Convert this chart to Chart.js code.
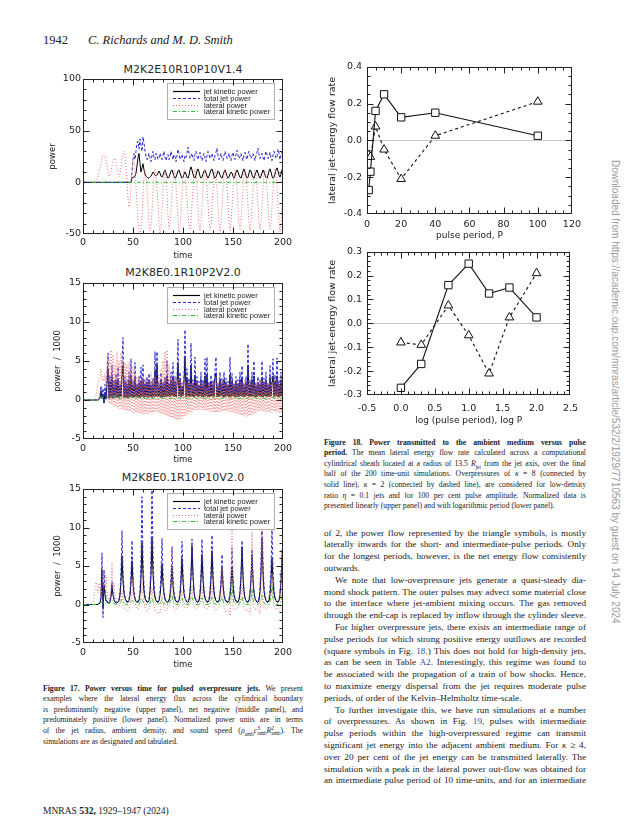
<!DOCTYPE html>
<html><head><meta charset="utf-8">
<script src="https://cdn.jsdelivr.net/npm/chart.js@4.4.1/dist/chart.umd.min.js"></script>
<style>
html,body{margin:0;padding:0;background:#fff;}
#page{position:relative;width:638px;height:838px;overflow:hidden;background:#fff;font-family:'Liberation Serif','Times New Roman',serif;color:#1a1a1a;}
canvas{position:absolute;}
.ptitle{position:absolute;left:63px;width:240px;text-align:center;font-family:'DejaVu Sans',sans-serif;font-size:11px;line-height:13px;color:#2a2a2a;}
.cap{position:absolute;font-size:7.7px;line-height:10.6px;}
.body{position:absolute;font-size:9.2px;line-height:11.8px;}
.cap div,.body div{text-align:justify;text-align-last:justify;}
.cap div.last,.body div.last{text-align-last:left;}
.ind{text-indent:11px;}
a{color:#2a4fa0;text-decoration:none;}
sub,sup{font-size:0.7em;line-height:0;}
.ss{display:inline-block;vertical-align:-0.35em;font-size:0.7em;line-height:0.85em;text-align:left;}
.ss span{display:block;text-align-last:left;}
#hdr{position:absolute;left:43px;top:32px;font-size:12.5px;line-height:16px;}
#hdr i{margin-left:20px;}
#ftr{position:absolute;left:43px;top:805px;font-size:9.5px;line-height:12px;}
#dl{position:absolute;left:621px;top:160px;transform-origin:0 0;transform:rotate(90deg);font-family:'Liberation Sans',sans-serif;font-size:10px;line-height:12px;color:#9a9a9a;white-space:nowrap;}
</style></head>
<body><div id="page">
<div id="hdr">1942<i>C. Richards and M. D. Smith</i></div>

<div class="ptitle" style="top:63px">M2K2E10R10P10V1.4</div>
<canvas id="p1"></canvas>
<div class="ptitle" style="top:266px">M2K8E0.1R10P2V2.0</div>
<canvas id="p2"></canvas>
<div class="ptitle" style="top:471px">M2K8E0.1R10P10V2.0</div>
<canvas id="p3"></canvas>
<canvas id="rt"></canvas>
<canvas id="rb"></canvas>

<div class="cap" style="left:43px;top:683.7px;width:260px;">
<div><b>Figure 17. Power versus time for pulsed overpressure jets.</b> We present</div>
<div>examples where the lateral energy flux across the cylindrical boundary</div>
<div>is predominantly negative (upper panel), net negative (middle panel), and</div>
<div>predominately positive (lower panel). Normalized power units are in terms</div>
<div>of the jet radius, ambient density, and sound speed (<i>ρ</i><sub>amb</sub><i>c</i><span class="ss"><span>3</span><span>amb</span></span><i>R</i><span class="ss"><span>2</span><span>amb</span></span>). The</div>
<div class="last">simulations are as designated and tabulated.</div>
</div>

<div class="cap" style="left:324px;top:437.6px;width:262px;">
<div><b>Figure 18. Power transmitted to the ambient medium versus pulse</b></div>
<div><b>period.</b> The mean lateral energy flow rate calculated across a computational</div>
<div>cylindrical sheath located at a radius of 13.5 <i>R</i><sub>jet</sub> from the jet axis, over the final</div>
<div>half of the 200 time-unit simulations. Overpressures of <i>κ</i> = 8 (connected by</div>
<div>solid line), <i>κ</i> = 2 (connected by dashed line), are considered for low-density</div>
<div>ratio <i>η</i> = 0.1 jets and for 100 per cent pulse amplitude. Normalized data is</div>
<div class="last">presented linearly (upper panel) and with logarithmic period (lower panel).</div>
</div>

<div class="body" style="left:324px;top:527.6px;width:262px;">
<div>of 2, the power flow represented by the triangle symbols, is mostly</div>
<div>laterally inwards for the short- and intermediate-pulse periods. Only</div>
<div>for the longest periods, however, is the net energy flow consistently</div>
<div class="last">outwards.</div>
<div class="ind">We note that low-overpressure jets generate a quasi-steady dia-</div>
<div>mond shock pattern. The outer pulses may advect some material close</div>
<div>to the interface where jet-ambient mixing occurs. The gas removed</div>
<div>through the end-cap is replaced by inflow through the cylinder sleeve.</div>
<div class="ind">For higher overpressure jets, there exists an intermediate range of</div>
<div>pulse periods for which strong positive energy outflows are recorded</div>
<div>(square symbols in Fig. <a>18</a>.) This does not hold for high-density jets,</div>
<div>as can be seen in Table <a>A2</a>. Interestingly, this regime was found to</div>
<div>be associated with the propagation of a train of bow shocks. Hence,</div>
<div>to maximize energy dispersal from the jet requires moderate pulse</div>
<div class="last">periods, of order of the Kelvin–Helmholtz time-scale.</div>
<div class="ind">To further investigate this, we have run simulations at a number</div>
<div>of overpressures. As shown in Fig. <a>19</a>, pulses with intermediate</div>
<div>pulse periods within the high-overpressured regime can transmit</div>
<div>significant jet energy into the adjacent ambient medium. For <i>κ</i> ≥ 4,</div>
<div>over 20 per cent of the jet energy can be transmitted laterally. The</div>
<div>simulation with a peak in the lateral power out-flow was obtained for</div>
<div>an intermediate pulse period of 10 time-units, and for an intermediate</div>
</div>

<div id="ftr">MNRAS <b>532,</b> 1929–1947 (2024)</div>
<div id="dl">Downloaded from https://academic.oup.com/mnras/article/532/2/1929/7710563 by guest on 14 July 2024</div>
</div>

<script>
// ---------------- data ----------------
// Panel 1 (M2K2E10R10P10V1.4), time 0..200, step 1
const p1Step = 1;
const p1JetKinetic = [
0,0,0,0,0,0,0,0,0,0,
0,0,0,0,0,0,0,0,0,0,
0,0,0,0,0,0,0,0,0,0,
0,0,0,0,0,0,0,0,0,0,
0,0,0,0,0,0,0,0,0,4,
5,5,6,9,16,24,28,18,10,14,
18,12,8,6,5,4,4,5,6,8,
10,9,7,6,7,9,11,9,6,5,
7,10,12,9,6,4,5,8,11,12,
9,6,4,5,8,11,12,9,6,4,
5,8,10,8,5,4,7,12,15,12,
8,5,4,7,11,13,10,6,4,5,
8,11,12,9,6,4,6,9,12,13,
10,6,4,5,8,11,10,7,5,4,
7,10,12,9,6,4,5,8,10,9,
6,4,6,10,12,10,7,5,4,7,
11,13,10,6,4,5,9,12,11,7,
5,4,7,10,12,9,6,4,6,9,
12,10,7,5,4,7,11,13,10,6,
4,5,8,12,14,11,7,5,8,12,
14];
const p1TotalJet = [
0,0,0,0,0,0,0,0,0,0,
0,0,0,0,0,0,0,0,0,0,
0,0,0,0,0,0,0,0,0,0,
0,0,0,0,0,0,0,0,0,0,
0,0,0,0,0,0,0,0,0,10,
22,28,22,30,38,40,32,42,36,30,
44,38,30,25,22,24,28,24,20,26,
30,24,22,28,26,22,24,28,25,22,
26,30,24,21,25,27,22,24,30,26,
22,27,25,20,26,32,28,22,24,27,
23,20,26,24,28,34,29,23,25,28,
24,21,27,30,25,22,26,29,24,21,
25,28,24,20,26,30,27,23,25,28,
24,21,26,29,33,26,22,25,28,24,
21,26,30,27,23,25,28,24,21,26,
29,25,22,27,31,26,23,25,28,24,
21,26,29,25,22,27,30,26,23,25,
28,24,21,26,29,33,27,23,25,28,
24,21,26,30,27,23,25,29,24,21,
26,30,27,23,25,32,28,22,26,30,
25];
const p1Lateral = [
0,0,0,0,0,0,0,0,0,0,
0,0,0,1,3,6,10,14,19,23,
26,27,26,22,16,10,6,7,11,16,
20,23,23,20,14,8,5,8,15,22,
28,30,26,15,0,-15,-24,-20,-5,12,
24,20,10,-5,-22,-38,-48,-52,-45,-30,
-12,4,12,8,-6,-24,-40,-47,-42,-28,
-10,5,13,9,-5,-22,-40,-52,-44,-26,
-8,6,12,6,-12,-32,-45,-40,-26,-10,
4,12,9,-4,-20,-38,-50,-44,-28,-10,
5,13,10,-2,-16,-30,-42,-46,-38,-22,
-6,7,13,8,-6,-24,-40,-47,-40,-24,
-6,8,13,9,-4,-20,-36,-46,-42,-26,
-8,6,12,8,-6,-24,-40,-48,-40,-24,
-6,8,13,9,-4,-22,-38,-46,-40,-24,
-6,8,12,8,-6,-24,-40,-45,-38,-22,
-4,9,13,8,-6,-24,-40,-47,-40,-24,
-6,8,12,8,-6,-24,-40,-46,-38,-22,
-4,8,12,8,-6,-22,-38,-45,-40,-24,
-6,8,13,9,-4,-22,-38,-48,-40,-24,
-8];
const p1LatStep = 10;
const p1LateralKinetic = [0,0,0,0,0,0,0,0,0,0,0,0,0,0,0,0,0,0,0,0,0];

// Panel 2 (M2K8E0.1R10P2V2.0), time 0..200, step 1, values / 1000
const p2Step = 1;
const p2JetKinetic = [
0,0,0,0,0,0,0,0,0,0,
0,0,0,0,0,0,0.1,0.3,1.2,0.2,
0.8,-0.4,1.0,0.1,2.0,4.0,0.2,2.5,0.3,3.0,
0.2,2.0,0.3,2.5,0.3,2.8,0.2,1.8,0.4,3.0,
4.5,0.3,2.2,0.3,2.0,0.2,2.6,0.4,3.2,0.3,
2.0,0.3,2.8,0.4,1.8,0.3,2.2,0.3,2.5,0.4,
2.6,0.3,2.0,0.4,2.3,0.3,2.5,0.4,1.9,0.3,
2.1,0.4,3.8,0.5,4.5,0.4,1.8,0.4,2.6,0.3,
1.9,0.4,2.4,0.4,3.2,0.5,2.0,0.4,2.6,0.5,
2.9,0.4,2.3,0.4,2.0,4.8,0.5,2.6,0.4,1.8,
0.5,2.3,5.5,0.4,2.9,0.5,2.2,0.4,4.5,0.5,
2.0,0.4,3.2,0.5,2.3,0.4,1.9,0.5,2.6,0.4,
2.0,0.4,3.1,0.5,3.2,0.4,1.9,0.4,2.4,0.5,
2.0,0.4,2.9,3.5,0.4,1.8,0.4,2.6,0.5,2.1,
0.4,2.6,0.4,2.2,0.5,1.9,0.4,3.2,0.4,2.5,
0.5,1.8,0.4,2.3,0.4,2.0,0.4,2.6,0.5,2.9,
0.4,1.8,0.4,2.3,0.5,4.5,0.4,2.0,0.4,2.6,
0.5,3.1,0.4,1.8,0.4,2.3,0.5,2.0,0.4,2.9,
0.4,2.2,0.5,2.6,0.4,1.8,0.4,2.9,0.5,2.0,
3.1,0.4,2.4,0.5,3.1,0.4,2.0,0.4,2.6,0.5,
2.2];
const p2TotalJet = [
0,0,0,0,0,0,0,0,0,0,
0,0,0,0,0,0,0.2,0.5,1.8,0.4,
1.5,-0.3,2.0,0.2,3.0,6.0,0.5,3.2,0.6,4.5,
0.4,2.6,0.5,3.4,0.6,4.2,0.5,2.4,0.8,4.6,
8.0,0.7,3.0,0.6,2.6,0.5,3.6,0.8,5.3,0.7,
2.6,0.6,4.8,0.8,2.2,0.6,3.0,0.7,4.2,0.8,
4.5,0.6,2.6,0.8,3.0,0.6,3.4,0.9,2.4,0.7,
2.8,0.8,6.2,1.0,6.2,0.8,2.3,0.9,3.5,0.7,
2.4,0.8,3.0,0.9,5.0,1.0,2.6,0.8,3.6,1.0,
4.8,0.8,3.0,0.9,2.5,7.8,1.0,3.6,0.8,2.2,
1.0,3.0,9.0,0.9,4.0,1.0,2.8,0.8,7.3,1.0,
2.6,0.9,5.5,1.0,3.0,0.8,2.4,1.0,3.6,0.8,
2.6,0.9,5.3,1.0,5.5,0.8,2.4,0.9,3.2,1.0,
2.6,0.8,4.0,5.5,0.9,2.2,0.8,3.6,1.0,2.8,
0.8,3.6,0.9,2.8,1.0,2.4,0.8,5.5,0.9,3.4,
1.0,2.2,0.8,3.0,0.9,2.6,0.8,3.6,1.0,4.4,
0.8,2.2,0.9,3.0,1.0,7.2,0.8,2.6,0.9,3.6,
1.0,5.0,0.8,2.2,0.9,3.0,1.0,2.6,0.8,5.0,
0.9,2.8,1.0,3.6,0.8,2.2,0.9,4.4,1.0,2.6,
5.3,0.8,3.2,1.0,5.4,0.9,2.6,0.8,3.6,1.0,
2.8];
const p2Lateral = [
0,0,0,0,0,0,0,0,0,0,
0,0,0.2,0.6,1.2,2.0,2.8,3.2,4.0,2.6,
3.0,2.4,3.4,1.5,4.5,-0.2,5.5,-0.5,6.4,-0.6,
5.8,-0.8,4.5,-0.9,6.2,-1.0,5.0,-1.1,6.0,-1.2,
5.2,-1.3,4.8,-1.4,4.5,-1.4,4.9,-1.5,3.8,-1.5,
4.2,-1.6,3.5,-1.6,3.0,-1.7,3.2,-1.7,2.6,-1.8,
3.0,-1.8,2.5,-1.8,2.8,-1.8,2.4,-1.7,3.5,-1.6,
2.8,-1.6,3.0,-1.5,2.6,-1.6,3.2,-1.7,4.0,-1.8,
5.0,-1.9,6.2,-2.0,6.4,-2.1,4.5,-2.2,3.0,-2.3,
2.6,-2.4,2.8,-2.5,2.4,-2.6,3.0,-2.5,2.5,-2.4,
2.2,-2.2,2.6,-2.0,2.0,-1.8,2.4,-1.6,2.2,-1.5,
2.5,-1.4,2.0,-1.3,2.3,-1.3,1.9,-1.2,2.4,-1.3,
2.0,-1.3,2.2,-1.4,1.8,-1.4,2.3,-1.5,2.0,-1.5,
2.4,-1.6,2.0,-1.6,2.5,-1.6,1.8,-1.5,2.2,-1.5,
2.6,-1.4,2.1,-1.4,2.3,-1.5,1.9,-1.5,2.4,-1.6,
2.0,-1.6,2.2,-1.7,2.5,-1.8,2.0,-1.9,2.3,-2.0,
2.1,-2.0,2.6,-2.1,2.2,-2.1,2.4,-2.0,2.0,-1.9,
2.3,-1.8,2.0,-1.6,2.4,-1.5,2.1,-1.4,2.6,-1.4,
2.2,-1.5,2.4,-1.5,2.0,-1.6,2.3,-1.6,2.1,-1.6,
2.4,-1.5,2.0,-1.5,2.5,-1.6,2.1,-1.7,2.3,-1.6,
2.0];
const p2LatStep = 2;
const p2LateralKinetic = [
0,0,0,0,0,0,0,0,0,
0.2,0.4,0.1,0.5,0.2,0.3,0.1,0.6,0.7,0.3,
0.2,0.3,0.2,0.3,0.2,0.4,0.3,0.2,0.3,0.2,
0.2,0.3,0.2,0.2,0.3,0.2,0.2,0.3,0.2,0.2,
0.3,0.2,0.2,0.3,0.2,0.2,0.3,0.2,0.2,0.3,
0.2,0.3,0.2,0.2,0.3,0.2,0.2,0.3,0.2,0.2,
0.3,0.2,0.2,0.3,0.2,0.2,0.3,0.2,0.2,0.3,
0.2,0.2,0.3,0.2,0.2,0.3,0.2,0.2,0.3,0.2,
0.2,0.3,0.2,0.2,0.3,0.2,0.2,0.3,0.2,0.2,
0.3,0.2,0.2,0.3,0.2,0.2,0.3,0.2,0.2,0.3,
0.2,0.2];

// Panel 3 (M2K8E0.1R10P10V2.0), time 0..200, step 1, values / 1000
const p3Step = 1;
const p3JetKinetic = [
0,0,0,0,0,0,0,0,0,0,
0,0,0,0,0,0,0.1,0.2,0.8,4.5,
-0.5,2.5,1.2,0.5,0.3,0.2,0.2,0.4,1.0,2.5,
1.2,0.6,0.3,0.2,0.2,0.3,0.5,1.2,3.0,6.3,
3.0,1.4,0.8,0.5,0.3,0.3,0.5,1.2,2.8,5.7,
2.8,1.3,0.7,0.4,0.3,0.3,0.5,1.4,3.5,8.0,
3.8,1.6,0.8,0.5,0.3,0.3,0.5,1.5,3.8,8.7,
4.0,1.7,0.9,0.5,0.3,0.3,0.5,1.2,2.6,5.3,
2.6,1.3,0.7,0.4,0.3,0.3,0.5,1.1,2.5,5.0,
2.5,1.2,0.7,0.4,0.3,0.3,0.5,1.3,3.0,6.0,
3.0,1.4,0.8,0.5,0.3,0.3,0.6,1.5,3.6,7.6,
3.6,1.6,0.8,0.5,0.3,0.3,0.5,1.3,3.2,6.5,
3.2,1.5,0.8,0.5,0.3,0.3,0.5,1.4,3.4,7.0,
3.3,1.5,0.8,0.5,0.3,0.3,0.5,1.2,2.6,5.0,
2.5,1.2,0.7,0.4,0.3,0.3,0.5,1.2,2.6,5.0,
2.5,1.2,0.7,0.4,0.3,0.3,0.6,1.5,3.6,7.5,
3.6,1.6,0.8,0.5,0.3,0.3,0.5,1.4,3.2,6.5,
3.2,1.5,0.8,0.5,0.3,0.3,0.6,1.6,4.0,8.5,
4.0,1.8,0.9,0.5,0.3,0.3,0.5,1.3,3.0,6.0,
3.0,1.4,0.8,0.5,0.3,0.3,0.5,1.3,3.0,6.0,
3.0];
const p3TotalJet = [
0,0,0,0,0,0,0,0,0,0,
0,0,0,0,0,0,0.1,0.3,1.0,6.7,
-1.7,4.5,2.0,0.8,0.4,0.3,0.3,0.5,1.2,3.0,
1.5,0.8,0.4,0.3,0.3,0.4,0.7,1.6,4.2,9.6,
4.5,2.0,1.0,0.6,0.4,0.4,0.7,1.5,3.8,8.3,
4.0,1.8,0.9,0.5,0.4,0.4,0.7,1.8,5.5,14.0,
6.0,2.4,1.1,0.6,0.4,0.4,0.7,2.0,6.0,15.5,
6.5,2.5,1.2,0.6,0.4,0.4,0.7,1.6,4.0,8.6,
4.0,1.8,0.9,0.5,0.4,0.4,0.6,1.4,3.5,7.5,
3.5,1.6,0.9,0.5,0.4,0.4,0.7,1.6,4.0,8.2,
4.0,1.8,0.9,0.5,0.4,0.4,0.7,1.7,4.2,8.5,
4.2,1.9,1.0,0.6,0.4,0.4,0.7,1.7,4.2,8.5,
4.2,1.9,1.0,0.6,0.4,0.4,0.7,1.8,4.4,9.0,
4.4,2.0,1.0,0.6,0.4,0.4,0.6,1.4,3.2,6.5,
3.2,1.5,0.8,0.5,0.4,0.4,0.6,1.5,3.6,7.4,
3.6,1.6,0.9,0.5,0.4,0.4,0.7,1.7,4.0,8.3,
4.0,1.8,0.9,0.5,0.4,0.4,0.6,1.5,3.5,7.2,
3.5,1.6,0.9,0.5,0.4,0.4,0.8,2.2,5.5,12.5,
5.5,2.3,1.1,0.6,0.4,0.4,0.7,2.0,4.6,10.0,
4.6,2.0,1.0,0.6,0.4,0.4,0.6,1.5,3.5,7.2,
3.5];
const p3Lateral = [
0,0,0,0,0,0,0,0,0,0,
0.3,1.0,2.2,2.9,2.5,1.5,2.8,2.0,0.8,2.5,
4.5,3.0,2.2,3.8,1.8,0.9,0.6,0.9,2.0,5.4,
2.0,2.8,1.2,0.4,-0.2,-0.4,-0.3,0.2,0.8,1.8,
0.6,-0.3,-0.6,-0.8,-0.9,-0.7,-0.5,0.0,0.6,1.5,
3.5,1.5,0.4,-0.2,-0.5,-0.6,-0.4,0.2,1.0,3.0,
1.2,0.2,-0.4,-0.8,-1.0,-0.9,-0.6,0.0,0.8,2.2,
0.8,-0.2,-0.6,-0.9,-1.1,-1.2,-1.0,-1.2,0.0,1.2,
0.3,-0.4,-0.7,-0.8,-0.6,-0.5,-0.3,0.3,1.5,7.5,
1.0,-0.6,-0.7,-0.6,-0.5,-0.3,-0.2,0.3,0.9,2.0,
0.6,-0.2,-0.4,-0.5,-0.4,-0.3,-0.1,0.4,1.0,2.5,
0.7,-0.2,-0.5,-0.6,-0.5,-0.4,-0.2,0.4,1.2,2.5,
0.8,-0.2,-0.5,-0.6,-0.6,-0.4,-0.2,0.4,1.2,3.0,
0.9,-0.3,-0.6,-0.8,-0.7,-0.5,-0.3,0.4,1.5,5.0,
1.0,-0.4,-0.8,-1.0,-0.9,-0.7,-0.9,-1.5,0.5,10.0,
-0.5,-0.6,-0.7,-0.6,-0.5,-0.4,-0.2,0.4,1.2,3.5,
0.8,-0.3,-0.6,-0.8,-0.8,-0.7,-0.9,-1.3,0.5,9.5,
-0.3,-0.5,-0.6,-0.6,-0.5,-0.6,-0.9,-1.2,0.8,11.7,
0.0,-0.4,-0.6,-0.6,-0.5,-0.4,-0.2,0.4,1.4,4.0,
0.9,-0.3,-0.5,-0.6,-0.6,-0.5,-0.6,-0.8,0.8,7.0,
0.5];
const p3LateralKinetic = [
0,0,0,0,0,0,0,0,0,0,
0,0,0,0,0,0,0,0.1,0.2,0.4,
0.3,0.2,0.1,0.1,0.1,0.1,0.1,0.2,0.4,0.6,
0.3,0.1,0.1,0.0,0.0,0.0,0.1,0.2,0.4,0.7,
0.4,0.2,0.1,0.0,0.0,0.0,0.1,0.2,0.4,0.6,
0.4,0.2,0.1,0.0,0.0,0.0,0.1,0.2,0.5,0.8,
0.4,0.2,0.1,0.0,0.0,0.0,0.1,0.2,0.5,0.9,
0.4,0.2,0.1,0.0,0.0,0.0,0.1,0.2,0.4,0.7,
0.3,0.1,0.1,0.0,0.0,0.0,0.1,0.3,0.6,1.2,
0.5,0.2,0.1,0.0,0.0,0.0,0.1,0.2,0.4,0.8,
0.4,0.2,0.1,0.0,0.0,0.0,0.1,0.2,0.5,0.9,
0.4,0.2,0.1,0.0,0.0,0.0,0.1,0.2,0.5,0.9,
0.4,0.2,0.1,0.0,0.0,0.0,0.1,0.2,0.5,1.0,
0.5,0.2,0.1,0.0,0.0,0.0,0.1,0.3,0.6,1.1,
0.5,0.2,0.1,0.0,0.0,0.0,0.1,0.4,0.9,2.7,
0.8,0.3,0.1,0.0,0.0,0.0,0.1,0.2,0.5,1.0,
0.4,0.2,0.1,0.0,0.0,0.0,0.1,0.4,0.9,2.0,
0.7,0.3,0.1,0.0,0.0,0.0,0.1,0.3,0.6,1.2,
0.5,0.2,0.1,0.0,0.0,0.0,0.1,0.4,0.9,2.5,
0.8,0.3,0.1,0.0,0.0,0.0,0.1,0.3,0.6,1.2,
0.5];

// Figure 18
const pulsePeriod = [1, 2, 5, 10, 20, 40, 100];
const logPulsePeriod = [0.0, 0.3, 0.7, 1.0, 1.3, 1.6, 2.0];
const kappa8Flow = [-0.27, -0.17, 0.16, 0.25, 0.125, 0.15, 0.025];
const kappa2Flow = [-0.08, -0.09, 0.075, -0.05, -0.21, 0.025, 0.21];

const legendLabels = ['jet kinetic power', 'total jet power', 'lateral power', 'lateral kinetic power'];

// ---------------- styles ----------------
const AX = '#222';
const SANS = "'DejaVu Sans', sans-serif";
const TICK_FONT = {family: SANS, size: 9.5};
const C_JET = '#000000', C_TOT = '#2a2ad0', C_LAT = '#f07070', C_LK = '#36c436';
const D_JET = [], D_TOT = [3, 2], D_LAT = [1, 2], D_LK = [4, 2, 1, 2];

function series(values, step) { return values.map((v, i) => ({x: i * step, y: v})); }
function lineDs(label, values, step, color, dash, order) {
  return {label, data: series(values, step), borderColor: color, borderWidth: 1, borderDash: dash,
          pointRadius: 0, tension: 0, fill: false, order};
}

const LEG = legendLabels.map((t, i) => ({t, c: [C_JET, C_TOT, C_LAT, C_LK][i], d: [D_JET, D_TOT, D_LAT, D_LK][i], w: i === 0 ? 1.2 : 1}));
const FRAME = {
  p1: {xMajor: 50, xMinor: 10, yMajor: 50, yMinor: 10, legend: LEG},
  p2: {xMajor: 50, xMinor: 10, yMajor: 5, yMinor: 1, legend: LEG},
  p3: {xMajor: 50, xMinor: 10, yMajor: 5, yMinor: 1, legend: LEG},
  rt: {xMajor: 20, xMinor: 5, yMajor: 0.2, yMinor: 0.05, zero: '#c8c8c8'},
  rb: {xMajor: 0.5, xMinor: 0.1, yMajor: 0.1, yMinor: 0.02, zero: '#c8c8c8'}
};

const idlFrame = {
  id: 'idlFrame',
  beforeDatasetsDraw(chart) {
    const o = FRAME[chart.canvas.id];
    if (!o || !o.zero) return;
    const {ctx, chartArea: a, scales: {y}} = chart;
    const py = Math.round(y.getPixelForValue(0)) + 0.5;
    ctx.save(); ctx.strokeStyle = o.zero; ctx.lineWidth = 1;
    ctx.beginPath(); ctx.moveTo(a.left, py); ctx.lineTo(a.right, py); ctx.stroke(); ctx.restore();
  },
  afterDatasetsDraw(chart) {
    const o = FRAME[chart.canvas.id];
    const {ctx, chartArea: a, scales: {x, y}} = chart;
    ctx.save();
    if (o.legend) {
      const bx = a.left + 84, by = a.top + 4, bw = 107, bh = 36;
      ctx.fillStyle = '#fff'; ctx.fillRect(bx, by, bw, bh);
      ctx.strokeStyle = '#b0b0b0'; ctx.lineWidth = 1; ctx.strokeRect(bx + 0.5, by + 0.5, bw, bh);
      ctx.font = "7.5px 'Liberation Sans', sans-serif"; ctx.textBaseline = 'middle'; ctx.textAlign = 'left';
      o.legend.forEach((it, i) => {
        const yy = Math.round(by + 8 + i * 6.8) + 0.5;
        ctx.strokeStyle = it.c; ctx.lineWidth = it.w; ctx.setLineDash(it.d);
        ctx.beginPath(); ctx.moveTo(bx + 6, yy); ctx.lineTo(bx + 33, yy); ctx.stroke();
        ctx.setLineDash([]);
        ctx.fillStyle = '#222'; ctx.fillText(it.t, bx + 37, yy);
      });
    }
    const L = Math.round(a.left) + 0.5, R = Math.round(a.right) - 0.5, T = Math.round(a.top) + 0.5, B = Math.round(a.bottom) - 0.5;
    ctx.strokeStyle = AX; ctx.lineWidth = 1; ctx.setLineDash([]);
    ctx.strokeRect(L, T, R - L, B - T);
    ctx.beginPath();
    const isMajor = (v, min, maj) => { const q = (v - min) / maj; return Math.abs(q - Math.round(q)) < 1e-6; };
    const nx = Math.round((x.max - x.min) / o.xMinor);
    for (let i = 1; i < nx; i++) {
      const v = x.min + i * o.xMinor, len = isMajor(v, x.min, o.xMajor) ? 6 : 3;
      const px = Math.round(x.getPixelForValue(v)) + 0.5;
      ctx.moveTo(px, B); ctx.lineTo(px, B - len); ctx.moveTo(px, T); ctx.lineTo(px, T + len);
    }
    const ny = Math.round((y.max - y.min) / o.yMinor);
    for (let i = 1; i < ny; i++) {
      const v = y.min + i * o.yMinor, len = isMajor(v, y.min, o.yMajor) ? 6 : 3;
      const py = Math.round(y.getPixelForValue(v)) + 0.5;
      ctx.moveTo(L, py); ctx.lineTo(L + len, py); ctx.moveTo(R, py); ctx.lineTo(R - len, py);
    }
    ctx.stroke();
    ctx.restore();
  }
};

function buildChart(id, g, datasets, sc) {
  const cv = document.getElementById(id);
  const W = g.wy + (g.R - g.L) + g.pr, H = g.pt + (g.B - g.T) + g.hx;
  cv.width = W; cv.height = H;
  cv.style.left = (g.L - g.wy) + 'px'; cv.style.top = (g.T - g.pt) + 'px';
  cv.style.width = W + 'px'; cv.style.height = H + 'px';
  return new Chart(cv, {
    type: 'line',
    data: {datasets},
    options: {
      responsive: false, animation: false, devicePixelRatio: 1,
      layout: {padding: {left: 0, top: g.pt, right: g.pr, bottom: 0}},
      plugins: {legend: {display: false}, tooltip: {enabled: false}},
      scales: {
        x: {type: 'linear', position: 'bottom', min: sc.xmin, max: sc.xmax,
            grid: {display: false, drawTicks: false}, border: {display: false},
            ticks: {stepSize: sc.xstep, autoSkip: false, maxRotation: 0, padding: g.xpad, font: TICK_FONT, color: AX, callback: sc.xfmt},
            title: {display: true, text: sc.xtitle, font: {family: SANS, size: sc.tsize}, color: AX, padding: {top: 0, bottom: 0}},
            afterFit: s => { s.height = g.hx; }},
        y: {type: 'linear', position: 'left', min: sc.ymin, max: sc.ymax,
            grid: {display: false, drawTicks: false}, border: {display: false},
            ticks: {stepSize: sc.ystep, autoSkip: false, padding: g.ypad, font: TICK_FONT, color: AX, callback: sc.yfmt},
            title: {display: true, text: sc.ytitle, font: {family: SANS, size: sc.ytsize}, color: AX, padding: {top: g.ytp, bottom: 0}},
            afterFit: s => { s.width = g.wy; }}
      }
    },
    plugins: [idlFrame]
  });
}

const intFmt = v => String(Math.round(v));
const fmt1 = v => (Math.abs(v) < 1e-9 ? 0 : v).toFixed(1);

buildChart('p1', {L: 83, T: 79, R: 283, B: 234, wy: 40, pt: 8, pr: 14, hx: 27, xpad: 3, ypad: 2, ytp: 5},
  [lineDs('jet kinetic power', p1JetKinetic, p1Step, C_JET, D_JET, 3),
   lineDs('total jet power', p1TotalJet, p1Step, C_TOT, D_TOT, 2),
   lineDs('lateral power', p1Lateral, p1Step, C_LAT, D_LAT, 1),
   lineDs('lateral kinetic power', p1LateralKinetic, p1LatStep, C_LK, D_LK, 0)],
  {xmin: 0, xmax: 200, xstep: 50, ymin: -50, ymax: 100, ystep: 50, xtitle: 'time', ytitle: 'power', tsize: 8.5, ytsize: 8.5, xfmt: intFmt, yfmt: intFmt});

buildChart('p2', {L: 83, T: 283, R: 283, B: 439, wy: 40, pt: 8, pr: 14, hx: 26, xpad: 4, ypad: 2, ytp: 10},
  [lineDs('jet kinetic power', p2JetKinetic, p2Step, C_JET, D_JET, 3),
   lineDs('total jet power', p2TotalJet, p2Step, C_TOT, D_TOT, 2),
   lineDs('lateral power', p2Lateral, p2Step, C_LAT, D_LAT, 1),
   lineDs('lateral kinetic power', p2LateralKinetic, p2LatStep, C_LK, D_LK, 0)],
  {xmin: 0, xmax: 200, xstep: 50, ymin: -5, ymax: 15, ystep: 5, xtitle: 'time', ytitle: 'power  /  1000', tsize: 8.5, ytsize: 8.5, xfmt: intFmt, yfmt: intFmt});

buildChart('p3', {L: 83, T: 489, R: 283, B: 643, wy: 40, pt: 8, pr: 14, hx: 27, xpad: 4, ypad: 2, ytp: 10},
  [lineDs('jet kinetic power', p3JetKinetic, p3Step, C_JET, D_JET, 3),
   lineDs('total jet power', p3TotalJet, p3Step, C_TOT, D_TOT, 2),
   lineDs('lateral power', p3Lateral, p3Step, C_LAT, D_LAT, 1),
   lineDs('lateral kinetic power', p3LateralKinetic, p3Step, C_LK, D_LK, 0)],
  {xmin: 0, xmax: 200, xstep: 50, ymin: -5, ymax: 15, ystep: 5, xtitle: 'time', ytitle: 'power  /  1000', tsize: 8.5, ytsize: 8.5, xfmt: intFmt, yfmt: intFmt});

function markerDs(label, xs, ys, style, dash, radius) {
  return {label, data: xs.map((p, i) => ({x: p, y: ys[i]})), borderColor: '#111', borderWidth: 1.1, borderDash: dash,
          pointStyle: style, pointRadius: radius, pointBorderWidth: 1, pointBorderColor: '#111', pointBackgroundColor: '#fff', tension: 0, fill: false};
}

buildChart('rt', {L: 367, T: 64, R: 572, B: 214, wy: 45, pt: 8, pr: 14, hx: 27, xpad: 5, ypad: 5, ytp: 5.3},
  [markerDs('κ = 8', pulsePeriod, kappa8Flow, 'rect', [], 5.2),
   markerDs('κ = 2', pulsePeriod, kappa2Flow, 'triangle', [3, 3], 5)],
  {xmin: 0, xmax: 120, xstep: 20, ymin: -0.4, ymax: 0.4, ystep: 0.2, xtitle: 'pulse period, P', ytitle: 'lateral jet-energy flow rate', tsize: 9, ytsize: 9.5, xfmt: intFmt, yfmt: fmt1});

buildChart('rb', {L: 367, T: 249, R: 572, B: 395, wy: 45, pt: 8, pr: 14, hx: 31, xpad: 8, ypad: 5, ytp: 5.3},
  [markerDs('κ = 8', logPulsePeriod, kappa8Flow, 'rect', [], 5.2),
   markerDs('κ = 2', logPulsePeriod, kappa2Flow, 'triangle', [3, 3], 5)],
  {xmin: -0.5, xmax: 2.5, xstep: 0.5, ymin: -0.3, ymax: 0.3, ystep: 0.1, xtitle: 'log (pulse period), log P', ytitle: 'lateral jet-energy flow rate', tsize: 9, ytsize: 9.5, xfmt: fmt1, yfmt: fmt1});
</script>
</body></html>
